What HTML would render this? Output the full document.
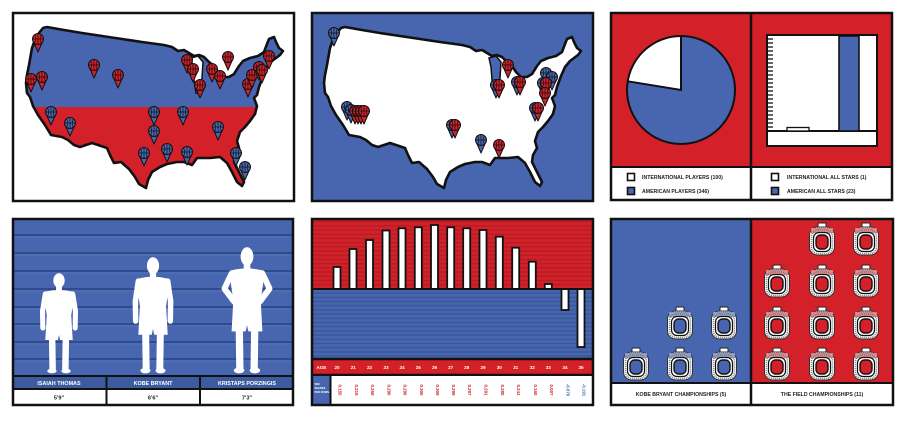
<!DOCTYPE html>
<html><head><meta charset="utf-8"><style>
html,body{margin:0;padding:0;background:#fff;}
svg{display:block;}
text{font-family:"Liberation Sans",sans-serif;font-weight:bold;}
</style></head><body>
<svg width="905" height="424" viewBox="0 0 905 424" xmlns="http://www.w3.org/2000/svg">
<defs>
  <clipPath id="usclip"><polygon points="345,27 362,30 380,33 400,36 420,39 440,42 462,45 470,47 476,51 482,50 487,53 492,56 497,55 502,57 507,62 512,66 516,72 521,77 527,77 532,74 537,66 541,61 548,58 556,56 562,52 565,44 567,39 572,37 574,42 577,48 581,51 578,55 570,61 565,67 561,76 557,87 555,95 552,98 555,106 553,114 548,121 543,127 538,132 535,141 537,148 533,155 532,162 537,172 542,182 540,186 535,182 530,172 525,163 518,157 508,158 495,158 490,165 482,162 475,162 465,164 458,167 450,172 446,180 444,188 437,184 433,177 427,169 419,162 412,163 408,155 405,148 396,145 390,143 378,147 372,145 366,140 360,137 349,135 343,125 336,115 331,106 328,97 325,93 324,83 325,75 327,65 330,48 333,40 337,33 341,28"/></clipPath>
  <polygon id="usline" fill="none" stroke="#111" stroke-width="2.6" stroke-linejoin="round" points="345,27 362,30 380,33 400,36 420,39 440,42 462,45 470,47 476,51 482,50 487,53 492,56 497,55 502,57 507,62 512,66 516,72 521,77 527,77 532,74 537,66 541,61 548,58 556,56 562,52 565,44 567,39 572,37 574,42 577,48 581,51 578,55 570,61 565,67 561,76 557,87 555,95 552,98 555,106 553,114 548,121 543,127 538,132 535,141 537,148 533,155 532,162 537,172 542,182 540,186 535,182 530,172 525,163 518,157 508,158 495,158 490,165 482,162 475,162 465,164 458,167 450,172 446,180 444,188 437,184 433,177 427,169 419,162 412,163 408,155 405,148 396,145 390,143 378,147 372,145 366,140 360,137 349,135 343,125 336,115 331,106 328,97 325,93 324,83 325,75 327,65 330,48 333,40 337,33 341,28"/>
  <g id="pinR">
    <path d="M-4.8,2 L0,13 L4.8,2 Z" fill="#d42129" stroke="#111" stroke-width="1" stroke-linejoin="round"/>
    <circle r="5.5" fill="#d42129" stroke="#111" stroke-width="1"/>
    <path d="M-5.3 0H5.3M0-5.3V5.3M-3.3-4Q-1.4 0 -3.3 4M3.3-4Q1.4 0 3.3 4" stroke="#111" stroke-width="0.7" fill="none"/>
  </g>
  <g id="pinB">
    <path d="M-4.8,2 L0,13 L4.8,2 Z" fill="#4866b0" stroke="#111" stroke-width="1" stroke-linejoin="round"/>
    <circle r="5.5" fill="#4866b0" stroke="#111" stroke-width="1"/>
    <path d="M-5.3 0H5.3M0-5.3V5.3M-3.3-4Q-1.4 0 -3.3 4M3.3-4Q1.4 0 3.3 4" stroke="#111" stroke-width="0.7" fill="none"/>
  </g>
  <pattern id="redStripe" patternUnits="userSpaceOnUse" width="4" height="4.2">
    <rect width="4" height="4.2" fill="#d42129"/><rect y="2.6" width="4" height="1.4" fill="#b51c24"/>
  </pattern>
  <pattern id="blueStripe" patternUnits="userSpaceOnUse" width="4" height="4.2">
    <rect width="4" height="4.2" fill="#4866b0"/><rect y="2.6" width="4" height="1.4" fill="#3a5696"/>
  </pattern>
  <g id="ringB">
    <rect x="-4" y="-16" width="8" height="5" rx="1" fill="#fff" stroke="#222" stroke-width="1"/>
    <rect x="-12.5" y="-12" width="25" height="28" rx="8" fill="#fff" stroke="#333" stroke-width="1"/>
    <rect x="-11" y="-11" width="22" height="5" fill="#8fa3d0" stroke="#555" stroke-width="0.6" stroke-dasharray="1 1"/>
    <rect x="-10.5" y="-9" width="21" height="23.5" rx="6.5" fill="none" stroke="#777" stroke-width="1.6" stroke-dasharray="1 1"/>
    <rect x="-8.5" y="-6.5" width="17" height="19" rx="5.5" fill="#fff" stroke="#111" stroke-width="1.2"/>
    <rect x="-6" y="-4" width="12" height="14" rx="4.5" fill="#4866b0" stroke="#111" stroke-width="1.4"/>
  </g>
  <g id="ringR">
    <rect x="-4" y="-16" width="8" height="5" rx="1" fill="#fff" stroke="#222" stroke-width="1"/>
    <rect x="-12.5" y="-12" width="25" height="28" rx="8" fill="#fff" stroke="#333" stroke-width="1"/>
    <rect x="-11" y="-11" width="22" height="5" fill="#e68a8e" stroke="#555" stroke-width="0.6" stroke-dasharray="1 1"/>
    <rect x="-10.5" y="-9" width="21" height="23.5" rx="6.5" fill="none" stroke="#777" stroke-width="1.6" stroke-dasharray="1 1"/>
    <rect x="-8.5" y="-6.5" width="17" height="19" rx="5.5" fill="#fff" stroke="#111" stroke-width="1.2"/>
    <rect x="-6" y="-4" width="12" height="14" rx="4.5" fill="#d42129" stroke="#111" stroke-width="1.4"/>
  </g>
  <g id="figStand" fill="#fff">
    <ellipse cx="0" cy="7.5" rx="5.8" ry="7.3"/>
    <rect x="-3" y="12" width="6" height="7"/>
    <path d="M-13.5 18.5 Q0 15.5 13.5 18.5 Q15.5 20 14.5 30 L12 45 L-12 45 L-14.5 30 Q-15.5 20 -13.5 18.5Z"/>
    <path d="M-12.5 43 L12.5 43 L14 67 L1.2 67 L0 62 L-1.2 67 L-14 67Z"/>
    <path d="M-14 21 L-16.8 38 L-16.5 55 M14 21 L16.8 38 L16.5 55" stroke="#fff" stroke-width="5.2" stroke-linecap="round" stroke-linejoin="round" fill="none"/>
    <path d="M-7 65 L-6.5 96 M7 65 L6.5 96" stroke="#fff" stroke-width="6.6" stroke-linecap="round" fill="none"/>
    <ellipse cx="-7.2" cy="98" rx="4.8" ry="2.3"/><ellipse cx="7.2" cy="98" rx="4.8" ry="2.3"/>
  </g>
  <g id="figAkimbo" fill="#fff">
    <ellipse cx="0" cy="7.5" rx="5.8" ry="7.3"/>
    <rect x="-3" y="12" width="6" height="7"/>
    <path d="M-13.5 18.5 Q0 15.5 13.5 18.5 Q15.5 20 14.5 30 L12 45 L-12 45 L-14.5 30 Q-15.5 20 -13.5 18.5Z"/>
    <path d="M-12.5 43 L12.5 43 L14 67 L1.2 67 L0 62 L-1.2 67 L-14 67Z"/>
    <path d="M-14 21 L-20.5 33 L-12 43 M14 21 L20.5 33 L12 43" stroke="#fff" stroke-width="5.2" stroke-linecap="round" stroke-linejoin="round" fill="none"/>
    <path d="M-7 65 L-6.5 96 M7 65 L6.5 96" stroke="#fff" stroke-width="6.6" stroke-linecap="round" fill="none"/>
    <ellipse cx="-7.2" cy="98" rx="4.8" ry="2.3"/><ellipse cx="7.2" cy="98" rx="4.8" ry="2.3"/>
  </g>
</defs>

<!-- ============ PANEL 1 ============ -->
<rect x="13" y="13" width="281" height="188" fill="#fff"/>
<g transform="translate(-298,0)">
  <g clip-path="url(#usclip)">
    <rect x="300" y="0" width="300" height="107" fill="#4866b0"/>
    <rect x="300" y="107" width="300" height="100" fill="#d42129"/>
  </g>
  <use href="#usline"/>
  <polygon points="489,58 496,56 501,62 500,78 498,94 494,93 492,80 491,67" fill="#fff" stroke="#111" stroke-width="1.5"/>
</g>
<g transform="translate(0,-1)">
<use href="#pinR" x="38" y="40"/><use href="#pinR" x="31" y="80"/><use href="#pinR" x="42" y="78"/>
<use href="#pinR" x="94" y="66"/><use href="#pinR" x="118" y="76"/><use href="#pinR" x="187" y="61"/>
<use href="#pinR" x="193" y="70"/><use href="#pinR" x="200" y="86"/><use href="#pinR" x="212" y="70"/>
<use href="#pinR" x="220" y="77"/><use href="#pinR" x="228" y="58"/><use href="#pinR" x="248" y="85"/>
<use href="#pinR" x="252" y="76"/><use href="#pinR" x="259" y="68"/><use href="#pinR" x="262" y="71"/>
<use href="#pinR" x="269" y="57"/>
<use href="#pinB" x="51" y="113"/><use href="#pinB" x="70" y="124"/><use href="#pinB" x="154" y="113"/>
<use href="#pinB" x="183" y="113"/><use href="#pinB" x="154" y="132"/><use href="#pinB" x="218" y="128"/>
<use href="#pinB" x="144" y="154"/><use href="#pinB" x="167" y="150"/><use href="#pinB" x="187" y="153"/>
<use href="#pinB" x="236" y="154"/><use href="#pinB" x="245" y="168"/>
</g>
<rect x="13" y="13" width="281" height="188" fill="none" stroke="#111" stroke-width="2.5"/>

<!-- ============ PANEL 2 ============ -->
<rect x="312" y="13" width="281" height="188" fill="#4866b0"/>
<polygon fill="#fff" points="345,27 362,30 380,33 400,36 420,39 440,42 462,45 470,47 476,51 482,50 487,53 492,56 497,55 502,57 507,62 512,66 516,72 521,77 527,77 532,74 537,66 541,61 548,58 556,56 562,52 565,44 567,39 572,37 574,42 577,48 581,51 578,55 570,61 565,67 561,76 557,87 555,95 552,98 555,106 553,114 548,121 543,127 538,132 535,141 537,148 533,155 532,162 537,172 542,182 540,186 535,182 530,172 525,163 518,157 508,158 495,158 490,165 482,162 475,162 465,164 458,167 450,172 446,180 444,188 437,184 433,177 427,169 419,162 412,163 408,155 405,148 396,145 390,143 378,147 372,145 366,140 360,137 349,135 343,125 336,115 331,106 328,97 325,93 324,83 325,75 327,65 330,48 333,40 337,33 341,28"/>
<use href="#usline"/>
<polygon points="489,58 496,56 501,62 500,78 498,94 494,93 492,80 491,67" fill="#4866b0" stroke="#111" stroke-width="1.5"/>
<use href="#pinB" x="334" y="33"/>
<use href="#pinB" x="347" y="107"/><use href="#pinB" x="351" y="110"/>
<use href="#pinR" x="355" y="111"/><use href="#pinR" x="358" y="111"/><use href="#pinR" x="361" y="111"/><use href="#pinR" x="364" y="111"/>
<use href="#pinB" x="452" y="125"/><use href="#pinR" x="455" y="125"/>
<use href="#pinB" x="481" y="140"/><use href="#pinR" x="499" y="145"/>
<use href="#pinR" x="508" y="65"/>
<use href="#pinB" x="496" y="85"/><use href="#pinR" x="499" y="85"/>
<use href="#pinB" x="517" y="82"/><use href="#pinR" x="520" y="82"/>
<use href="#pinB" x="546" y="73"/><use href="#pinB" x="552" y="77"/>
<use href="#pinB" x="543" y="83"/><use href="#pinR" x="546" y="83"/>
<use href="#pinR" x="545" y="93"/>
<use href="#pinB" x="535" y="108"/><use href="#pinR" x="538" y="108"/>
<rect x="312" y="13" width="281" height="188" fill="none" stroke="#111" stroke-width="2.5"/>

<!-- ============ PANEL 3 ============ -->
<rect x="611" y="13" width="281" height="154" fill="#d42129"/>
<rect x="611" y="167" width="281" height="33" fill="#fff"/>
<path d="M681,90 L627.7,81.3 A54,54 0 1 0 681,36 Z" fill="#4866b0"/>
<path d="M681,90 L681,36 A54,54 0 0 0 627.7,81.3 Z" fill="#fff"/>
<circle cx="681" cy="90" r="54" fill="none" stroke="#111" stroke-width="2"/>
<path d="M681,36 L681,90 L627.7,81.3" fill="none" stroke="#111" stroke-width="2" stroke-linejoin="miter"/>
<rect x="767" y="35" width="110" height="111" fill="#fff" stroke="#111" stroke-width="2"/>
<line x1="767" y1="131" x2="877" y2="131" stroke="#111" stroke-width="2"/>
<g stroke="#111" stroke-width="1.3">
<line x1="768" y1="39" x2="773" y2="39"/><line x1="768" y1="43" x2="773" y2="43"/><line x1="768" y1="47" x2="773" y2="47"/><line x1="768" y1="51" x2="773" y2="51"/><line x1="768" y1="55" x2="773" y2="55"/><line x1="768" y1="59" x2="773" y2="59"/><line x1="768" y1="63" x2="773" y2="63"/><line x1="768" y1="67" x2="773" y2="67"/><line x1="768" y1="71" x2="773" y2="71"/><line x1="768" y1="75" x2="773" y2="75"/><line x1="768" y1="79" x2="773" y2="79"/><line x1="768" y1="83" x2="773" y2="83"/><line x1="768" y1="87" x2="773" y2="87"/><line x1="768" y1="91" x2="773" y2="91"/><line x1="768" y1="95" x2="773" y2="95"/><line x1="768" y1="99" x2="773" y2="99"/><line x1="768" y1="103" x2="773" y2="103"/><line x1="768" y1="107" x2="773" y2="107"/><line x1="768" y1="111" x2="773" y2="111"/><line x1="768" y1="115" x2="773" y2="115"/><line x1="768" y1="119" x2="773" y2="119"/><line x1="768" y1="123" x2="773" y2="123"/><line x1="768" y1="127" x2="773" y2="127"/>
</g>
<rect x="787" y="127.5" width="22" height="3.5" fill="#fff" stroke="#111" stroke-width="1.3"/>
<rect x="839" y="36" width="20" height="95" fill="#4866b0" stroke="#111" stroke-width="1.6"/>
<line x1="611" y1="167" x2="892" y2="167" stroke="#111" stroke-width="2"/>
<line x1="751" y1="13" x2="751" y2="200" stroke="#111" stroke-width="2.5"/>
<rect x="627.5" y="173.5" width="7" height="7" fill="#fff" stroke="#111" stroke-width="1.6"/>
<rect x="627.5" y="187.5" width="7" height="7" fill="#4866b0" stroke="#111" stroke-width="1.6"/>
<rect x="771.5" y="173.5" width="7" height="7" fill="#fff" stroke="#111" stroke-width="1.6"/>
<rect x="771.5" y="187.5" width="7" height="7" fill="#4866b0" stroke="#111" stroke-width="1.6"/>
<g font-size="5.2" fill="#222">
<text x="642" y="179">INTERNATIONAL PLAYERS (100)</text>
<text x="642" y="193">AMERICAN PLAYERS (346)</text>
<text x="787" y="179">INTERNATIONAL ALL STARS (1)</text>
<text x="787" y="193">AMERICAN ALL STARS (23)</text>
</g>
<rect x="611" y="13" width="281" height="187" fill="none" stroke="#111" stroke-width="2.5"/>

<!-- ============ PANEL 4 ============ -->
<rect x="13" y="219" width="280" height="157" fill="#4866b0"/>
<g stroke="#2f4b8c" stroke-width="2">
<line x1="13" y1="235" x2="293" y2="235"/><line x1="13" y1="253" x2="293" y2="253"/><line x1="13" y1="271" x2="293" y2="271"/><line x1="13" y1="289" x2="293" y2="289"/><line x1="13" y1="307" x2="293" y2="307"/><line x1="13" y1="324" x2="293" y2="324"/><line x1="13" y1="342" x2="293" y2="342"/><line x1="13" y1="359" x2="293" y2="359"/>
</g>
<g stroke="#5676bd" stroke-width="1" opacity="0.7">
<line x1="13" y1="237" x2="293" y2="237"/><line x1="13" y1="255" x2="293" y2="255"/><line x1="13" y1="273" x2="293" y2="273"/><line x1="13" y1="291" x2="293" y2="291"/><line x1="13" y1="309" x2="293" y2="309"/><line x1="13" y1="326" x2="293" y2="326"/><line x1="13" y1="344" x2="293" y2="344"/><line x1="13" y1="361" x2="293" y2="361"/>
</g>
<use href="#figStand" transform="translate(59,273) scale(0.98,1.0)"/>
<use href="#figStand" transform="translate(153,257) scale(1.05,1.16)"/>
<use href="#figAkimbo" transform="translate(247,247) scale(1.1,1.26)"/>
<rect x="13" y="376" width="280" height="13" fill="#3d5c9f"/>
<rect x="13" y="389" width="280" height="16" fill="#fff"/>
<line x1="13" y1="376" x2="293" y2="376" stroke="#111" stroke-width="2"/>
<line x1="13" y1="389" x2="293" y2="389" stroke="#111" stroke-width="2"/>
<line x1="106.5" y1="376" x2="106.5" y2="405" stroke="#111" stroke-width="2"/>
<line x1="200" y1="376" x2="200" y2="405" stroke="#111" stroke-width="2"/>
<g font-size="5.4" fill="#fff" text-anchor="middle">
<text x="59" y="385">ISAIAH THOMAS</text>
<text x="153" y="385">KOBE BRYANT</text>
<text x="247" y="385">KRISTAPS PORZINGIS</text>
</g>
<g font-size="5.6" fill="#222" text-anchor="middle">
<text x="59" y="399.5">5'9"</text>
<text x="153" y="399.5">6'6"</text>
<text x="247" y="399.5">7'3"</text>
</g>
<rect x="13" y="219" width="280" height="186" fill="none" stroke="#111" stroke-width="2.5"/>

<!-- ============ PANEL 5 ============ -->
<rect x="312" y="219" width="281" height="70" fill="url(#redStripe)"/>
<rect x="312" y="289" width="281" height="70" fill="url(#blueStripe)"/>
<g fill="#fff" stroke="#111" stroke-width="1.8">
<rect x="333.5" y="267" width="7" height="22"/>
<rect x="349.5" y="249" width="7" height="40"/>
<rect x="366" y="240" width="7" height="49"/>
<rect x="382.5" y="230.5" width="7" height="58.5"/>
<rect x="398.5" y="228.3" width="7" height="60.7"/>
<rect x="414.8" y="227.3" width="7" height="61.7"/>
<rect x="431" y="225" width="7" height="64"/>
<rect x="447.2" y="227.3" width="7" height="61.7"/>
<rect x="463.2" y="228.3" width="7" height="60.7"/>
<rect x="479.5" y="230" width="7" height="59"/>
<rect x="495.8" y="236.7" width="7" height="52.3"/>
<rect x="512.2" y="247.7" width="7" height="41.3"/>
<rect x="528.8" y="261.7" width="7" height="27.3"/>
<rect x="544.8" y="284" width="7" height="5"/>
<rect x="561.5" y="289" width="7" height="21"/>
<rect x="577.5" y="289" width="7" height="58"/>
</g>
<line x1="312" y1="289" x2="593" y2="289" stroke="#111" stroke-width="2"/>
<rect x="312" y="359" width="281" height="15.5" fill="#d42129"/>
<line x1="312" y1="359" x2="593" y2="359" stroke="#111" stroke-width="2.5"/>
<line x1="312" y1="375" x2="593" y2="375" stroke="#111" stroke-width="2.5"/>
<rect x="312" y="376" width="281" height="29" fill="#fff"/>
<rect x="313" y="376" width="17" height="28" fill="#4866b0"/>
<line x1="330.5" y1="375" x2="330.5" y2="405" stroke="#111" stroke-width="2"/>
<g font-size="4.6" fill="#fff" text-anchor="middle">
<text x="321.5" y="369">AGE</text>
<text x="337" y="369">20</text><text x="353.3" y="369">21</text><text x="369.5" y="369">22</text><text x="386" y="369">23</text>
<text x="402" y="369">24</text><text x="418.3" y="369">25</text><text x="434.5" y="369">26</text><text x="450.7" y="369">27</text>
<text x="466.7" y="369">28</text><text x="483" y="369">29</text><text x="499.3" y="369">30</text><text x="515.7" y="369">31</text>
<text x="532.3" y="369">32</text><text x="548.3" y="369">33</text><text x="565" y="369">34</text><text x="581" y="369">35</text>
</g>
<g font-size="2.6" fill="#fff">
<text x="314.5" y="385">WIN</text><text x="314.5" y="389">SHARES</text><text x="314.5" y="393">PER 48 MIN.</text>
</g>
<g font-size="4.4" fill="#d42129" text-anchor="middle">
<text transform="translate(338.5,390) rotate(90)">0.155</text>
<text transform="translate(354.8,390) rotate(90)">0.219</text>
<text transform="translate(371,390) rotate(90)">0.258</text>
<text transform="translate(387.5,390) rotate(90)">0.290</text>
<text transform="translate(403.5,390) rotate(90)">0.296</text>
<text transform="translate(419.8,390) rotate(90)">0.300</text>
<text transform="translate(436,390) rotate(90)">0.309</text>
<text transform="translate(452.2,390) rotate(90)">0.299</text>
<text transform="translate(468.2,390) rotate(90)">0.297</text>
<text transform="translate(484.5,390) rotate(90)">0.291</text>
<text transform="translate(500.8,390) rotate(90)">0.280</text>
<text transform="translate(517.2,390) rotate(90)">0.244</text>
<text transform="translate(533.8,390) rotate(90)">0.160</text>
<text transform="translate(549.8,390) rotate(90)">0.007</text>
<text fill="#4866b0" transform="translate(566.5,390) rotate(90)">-0.076</text>
<text fill="#4866b0" transform="translate(582.5,390) rotate(90)">-0.191</text>
</g>
<rect x="312" y="219" width="281" height="186" fill="none" stroke="#111" stroke-width="2.5"/>

<!-- ============ PANEL 6 ============ -->
<rect x="611" y="219" width="140" height="164" fill="#4866b0"/>
<rect x="751" y="219" width="142" height="164" fill="#d42129"/>
<rect x="611" y="383" width="282" height="22" fill="#fff"/>
<use href="#ringB" x="680" y="323"/><use href="#ringB" x="724" y="323"/>
<use href="#ringB" x="636" y="364"/><use href="#ringB" x="680" y="364"/><use href="#ringB" x="724" y="364"/>
<use href="#ringR" x="822" y="239"/><use href="#ringR" x="866" y="239"/>
<use href="#ringR" x="777" y="281"/><use href="#ringR" x="822" y="281"/><use href="#ringR" x="866" y="281"/>
<use href="#ringR" x="777" y="323"/><use href="#ringR" x="822" y="323"/><use href="#ringR" x="866" y="323"/>
<use href="#ringR" x="777" y="364"/><use href="#ringR" x="822" y="364"/><use href="#ringR" x="866" y="364"/>
<line x1="611" y1="383" x2="893" y2="383" stroke="#111" stroke-width="2"/>
<line x1="751" y1="219" x2="751" y2="405" stroke="#111" stroke-width="2.5"/>
<g font-size="5.2" fill="#222" text-anchor="middle">
<text x="681" y="396">KOBE BRYANT CHAMPIONSHIPS (5)</text>
<text x="822" y="396">THE FIELD CHAMPIONSHIPS (11)</text>
</g>
<rect x="611" y="219" width="282" height="186" fill="none" stroke="#111" stroke-width="2.5"/>
</svg>
</body></html>
